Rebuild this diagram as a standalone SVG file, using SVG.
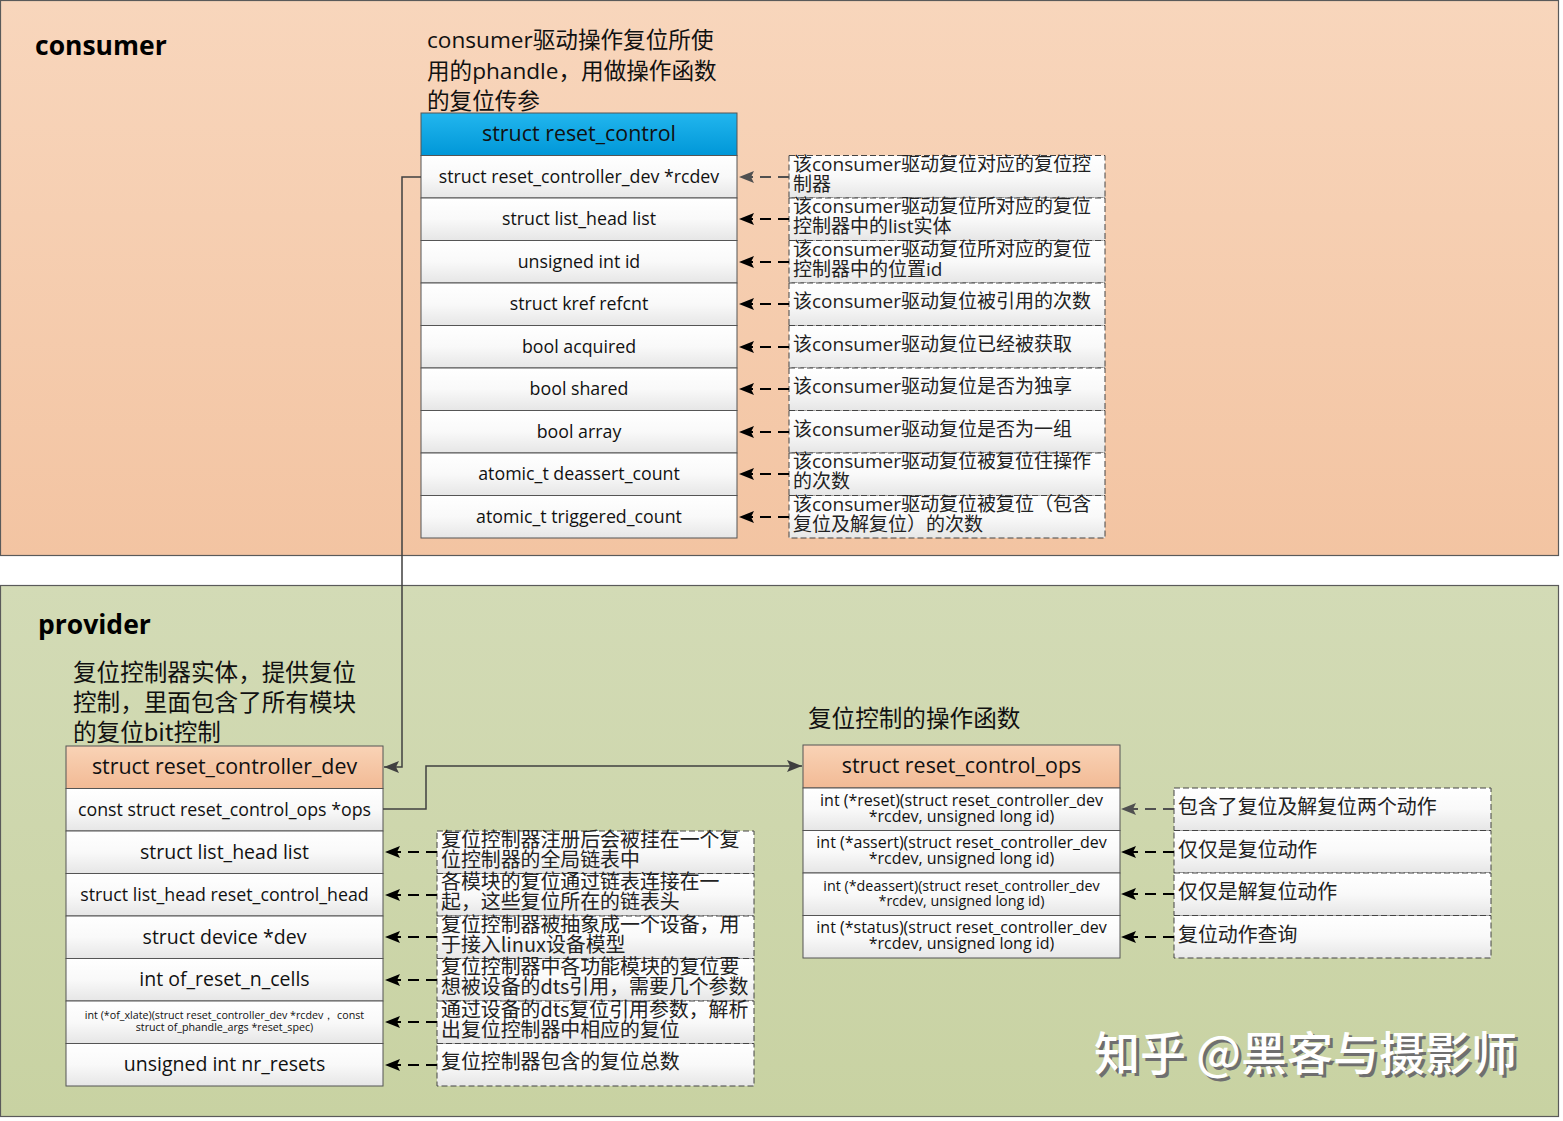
<svg xmlns="http://www.w3.org/2000/svg" width="1563" height="1121" viewBox="0 0 1563 1121">
<defs>
<linearGradient id="gCons" x1="0" y1="0" x2="0" y2="1"><stop offset="0" stop-color="#f8d6bc"/><stop offset="1" stop-color="#f3c4a2"/></linearGradient>
<linearGradient id="gProv" x1="0" y1="0" x2="0" y2="1"><stop offset="0" stop-color="#d3dbb6"/><stop offset="1" stop-color="#c8d2a2"/></linearGradient>
<linearGradient id="gBlue" x1="0" y1="0" x2="0" y2="1"><stop offset="0" stop-color="#22b6ee"/><stop offset="1" stop-color="#0097d8"/></linearGradient>
<linearGradient id="gPeach" x1="0" y1="0" x2="0" y2="1"><stop offset="0" stop-color="#f9d3b6"/><stop offset="1" stop-color="#f2ba95"/></linearGradient>
<linearGradient id="gRow" x1="0" y1="0" x2="0" y2="1"><stop offset="0" stop-color="#ffffff"/><stop offset="0.5" stop-color="#f9f9f9"/><stop offset="1" stop-color="#e6e6e6"/></linearGradient>
<marker id="ahg" markerWidth="16" markerHeight="12" refX="15" refY="6" orient="auto" markerUnits="userSpaceOnUse"><path d="M15,6 L0,0 L3,6 L0,12 Z" fill="#505050"/></marker>
<marker id="ahb" markerWidth="16" markerHeight="12" refX="15" refY="6" orient="auto" markerUnits="userSpaceOnUse"><path d="M15,6 L0,0 L3,6 L0,12 Z" fill="#000"/></marker>
<marker id="ahc" markerWidth="16" markerHeight="12" refX="15" refY="6" orient="auto" markerUnits="userSpaceOnUse"><path d="M15,6 L0,0 L3,6 L0,12 Z" fill="#404040"/></marker>
</defs>
<style>
.region{stroke:#5a5a5a;stroke-width:1.2}
.sec{font-family:"Open Sans","Noto Sans",sans-serif;font-weight:bold;font-size:26.5px;fill:#000}
.note{font-family:"Open Sans","Noto Sans CJK SC",sans-serif;font-size:22.6px;fill:#111}
.note2{font-family:"Noto Sans CJK SC","Open Sans",sans-serif;font-size:23.6px;fill:#111}
.hdr{stroke:#555;stroke-width:1}
.row{fill:url(#gRow);stroke:#555;stroke-width:1}
.ht{font-family:"Open Sans","Noto Sans",sans-serif;font-size:21.4px;fill:#111;text-anchor:middle}
.ft{font-family:"Open Sans","Noto Sans",sans-serif;font-size:17.8px;fill:#111;text-anchor:middle}
.ft18{font-family:"Open Sans","Noto Sans",sans-serif;font-size:19.5px;fill:#111;text-anchor:middle}
.ft10{font-family:"Open Sans","Noto Sans",sans-serif;font-size:10.7px;fill:#111;text-anchor:middle}
.ot{font-family:"Open Sans","Noto Sans",sans-serif;font-size:16px;fill:#111;text-anchor:middle}
.ann{fill:url(#gRow);stroke:#444;stroke-width:1;stroke-dasharray:6,3}
.at{font-family:"Open Sans","Noto Sans CJK SC",sans-serif;font-size:19px;fill:#222}
.at2{font-family:"Noto Sans CJK SC","Open Sans",sans-serif;font-size:19.9px;fill:#222}
.dash{stroke:#000;stroke-width:2.2;stroke-dasharray:11,7;fill:none;marker-end:url(#ahb)}
.dashg{stroke:#505050;stroke-width:2.2;stroke-dasharray:11,7;fill:none;marker-end:url(#ahg)}
.conn{stroke:#404040;stroke-width:1.5;fill:none;marker-end:url(#ahc)}
.wm{font-family:"Noto Sans CJK SC",sans-serif;font-weight:500;font-size:46px}
</style>

<g id="consumer-region">
<rect class="region" x="0.5" y="0.5" width="1558" height="555" fill="url(#gCons)"/>
<text class="sec" x="35" y="55">consumer</text>
<text class="note" x="427" y="48">consumer驱动操作复位所使</text>
<text class="note" x="427" y="79">用的phandle，用做操作函数</text>
<text class="note" x="427" y="109">的复位传参</text>
</g>

<g id="provider-region">
<rect class="region" x="0.5" y="585.5" width="1558" height="531" fill="url(#gProv)"/>
<text class="sec" x="38" y="634">provider</text>
<text class="note2" x="73" y="681">复位控制器实体，提供复位</text>
<text class="note2" x="73" y="711">控制，里面包含了所有模块</text>
<text class="note2" x="73" y="741">的复位bit控制</text>
<text class="note2" x="808" y="727">复位控制的操作函数</text>
</g>

<g id="reset_control">
<rect class="hdr" x="421" y="113" width="316" height="42.5" fill="url(#gBlue)"/>
<text class="ht" x="579" y="141">struct reset_control</text>
<rect class="row" x="421" y="155.5" width="316" height="42.5"/>
<text class="ft" x="579" y="183">struct reset_controller_dev *rcdev</text>
<rect class="row" x="421" y="198" width="316" height="42.5"/>
<text class="ft" x="579" y="225">struct list_head list</text>
<rect class="row" x="421" y="240.5" width="316" height="42.5"/>
<text class="ft" x="579" y="268">unsigned int id</text>
<rect class="row" x="421" y="283" width="316" height="42.5"/>
<text class="ft" x="579" y="310">struct kref refcnt</text>
<rect class="row" x="421" y="325.5" width="316" height="42.5"/>
<text class="ft" x="579" y="353">bool acquired</text>
<rect class="row" x="421" y="368" width="316" height="42.5"/>
<text class="ft" x="579" y="395">bool shared</text>
<rect class="row" x="421" y="410.5" width="316" height="42.5"/>
<text class="ft" x="579" y="438">bool array</text>
<rect class="row" x="421" y="453" width="316" height="42.5"/>
<text class="ft" x="579" y="480">atomic_t deassert_count</text>
<rect class="row" x="421" y="495.5" width="316" height="42.5"/>
<text class="ft" x="579" y="523">atomic_t triggered_count</text>
</g>

<g id="consumer-notes">
<rect class="ann" x="789" y="155.5" width="316" height="42.5"/>
<text class="at" x="793" y="171">该consumer驱动复位对应的复位控</text>
<text class="at" x="793" y="191">制器</text>
<rect class="ann" x="789" y="198" width="316" height="42.5"/>
<text class="at" x="793" y="213">该consumer驱动复位所对应的复位</text>
<text class="at" x="793" y="233">控制器中的list实体</text>
<rect class="ann" x="789" y="240.5" width="316" height="42.5"/>
<text class="at" x="793" y="256">该consumer驱动复位所对应的复位</text>
<text class="at" x="793" y="276">控制器中的位置id</text>
<rect class="ann" x="789" y="283" width="316" height="42.5"/>
<text class="at" x="793" y="308">该consumer驱动复位被引用的次数</text>
<rect class="ann" x="789" y="325.5" width="316" height="42.5"/>
<text class="at" x="793" y="351">该consumer驱动复位已经被获取</text>
<rect class="ann" x="789" y="368" width="316" height="42.5"/>
<text class="at" x="793" y="393">该consumer驱动复位是否为独享</text>
<rect class="ann" x="789" y="410.5" width="316" height="42.5"/>
<text class="at" x="793" y="436">该consumer驱动复位是否为一组</text>
<rect class="ann" x="789" y="453" width="316" height="42.5"/>
<text class="at" x="793" y="468">该consumer驱动复位被复位住操作</text>
<text class="at" x="793" y="488">的次数</text>
<rect class="ann" x="789" y="495.5" width="316" height="42.5"/>
<text class="at" x="793" y="511">该consumer驱动复位被复位（包含</text>
<text class="at" x="793" y="531">复位及解复位）的次数</text>
</g>

<g id="reset_controller_dev">
<rect class="hdr" x="66" y="746" width="317" height="42.5" fill="url(#gPeach)"/>
<text class="ht" x="224.5" y="774">struct reset_controller_dev</text>
<rect class="row" x="66" y="788.5" width="317" height="42.5"/>
<text class="ft" x="224.5" y="816">const struct reset_control_ops *ops</text>
<rect class="row" x="66" y="831" width="317" height="42.5"/>
<text class="ft18" x="224.5" y="859">struct list_head list</text>
<rect class="row" x="66" y="873.5" width="317" height="42.5"/>
<text class="ft" x="224.5" y="901">struct list_head reset_control_head</text>
<rect class="row" x="66" y="916" width="317" height="42.5"/>
<text class="ft18" x="224.5" y="944">struct device *dev</text>
<rect class="row" x="66" y="958.5" width="317" height="42.5"/>
<text class="ft18" x="224.5" y="986">int of_reset_n_cells</text>
<rect class="row" x="66" y="1001" width="317" height="42.5"/>
<text class="ft10" x="224.5" y="1019">int (*of_xlate)(struct reset_controller_dev *rcdev，  const</text>
<text class="ft10" x="224.5" y="1031">struct of_phandle_args *reset_spec)</text>
<rect class="row" x="66" y="1043.5" width="317" height="42.5"/>
<text class="ft18" x="224.5" y="1071">unsigned int nr_resets</text>
</g>

<g id="provider-notes">
<rect class="ann" x="437" y="831" width="317" height="42.5"/>
<text class="at2" x="441" y="847">复位控制器注册后会被挂在一个复</text>
<text class="at2" x="441" y="867">位控制器的全局链表中</text>
<rect class="ann" x="437" y="873.5" width="317" height="42.5"/>
<text class="at2" x="441" y="889">各模块的复位通过链表连接在一</text>
<text class="at2" x="441" y="909">起，这些复位所在的链表头</text>
<rect class="ann" x="437" y="916" width="317" height="42.5"/>
<text class="at2" x="441" y="932">复位控制器被抽象成一个设备，用</text>
<text class="at2" x="441" y="952">于接入linux设备模型</text>
<rect class="ann" x="437" y="958.5" width="317" height="42.5"/>
<text class="at2" x="441" y="974">复位控制器中各功能模块的复位要</text>
<text class="at2" x="441" y="994">想被设备的dts引用，需要几个参数</text>
<rect class="ann" x="437" y="1001" width="317" height="42.5"/>
<text class="at2" x="441" y="1017">通过设备的dts复位引用参数，解析</text>
<text class="at2" x="441" y="1037">出复位控制器中相应的复位</text>
<rect class="ann" x="437" y="1043.5" width="317" height="42.5"/>
<text class="at2" x="441" y="1069">复位控制器包含的复位总数</text>
</g>

<g id="reset_control_ops">
<rect class="hdr" x="803" y="745" width="317" height="43" fill="url(#gPeach)"/>
<text class="ht" x="961.5" y="773">struct reset_control_ops</text>
<rect class="row" x="803" y="788" width="317" height="42.5"/>
<text class="ot" x="961.5" y="806">int (*reset)(struct reset_controller_dev</text>
<text class="ot" x="961.5" y="822">*rcdev, unsigned long id)</text>
<rect class="row" x="803" y="830.5" width="317" height="42.5"/>
<text class="ot" x="961.5" y="848">int (*assert)(struct reset_controller_dev</text>
<text class="ot" x="961.5" y="864">*rcdev, unsigned long id)</text>
<rect class="row" x="803" y="873" width="317" height="42.5"/>
<text class="ot" x="961.5" y="891" style="font-size:14.3px">int (*deassert)(struct reset_controller_dev</text>
<text class="ot" x="961.5" y="906" style="font-size:14.3px">*rcdev, unsigned long id)</text>
<rect class="row" x="803" y="915.5" width="317" height="42.5"/>
<text class="ot" x="961.5" y="933">int (*status)(struct reset_controller_dev</text>
<text class="ot" x="961.5" y="949">*rcdev, unsigned long id)</text>
</g>

<g id="ops-notes">
<rect class="ann" x="1174" y="788" width="317" height="42.5"/>
<text class="at2" x="1178" y="814">包含了复位及解复位两个动作</text>
<rect class="ann" x="1174" y="830.5" width="317" height="42.5"/>
<text class="at2" x="1178" y="857">仅仅是复位动作</text>
<rect class="ann" x="1174" y="873" width="317" height="42.5"/>
<text class="at2" x="1178" y="899">仅仅是解复位动作</text>
<rect class="ann" x="1174" y="915.5" width="317" height="42.5"/>
<text class="at2" x="1178" y="942">复位动作查询</text>
</g>

<g id="connectors">
<path class="conn" d="M421,177 H402 V767 H384"/>
<path class="conn" d="M383,809 H426 V766 H802"/>
<line class="dashg" x1="789" y1="177" x2="739" y2="177"/>
<line class="dash" x1="789" y1="219" x2="739" y2="219"/>
<line class="dash" x1="789" y1="262" x2="739" y2="262"/>
<line class="dash" x1="789" y1="304" x2="739" y2="304"/>
<line class="dash" x1="789" y1="347" x2="739" y2="347"/>
<line class="dash" x1="789" y1="389" x2="739" y2="389"/>
<line class="dash" x1="789" y1="432" x2="739" y2="432"/>
<line class="dash" x1="789" y1="474" x2="739" y2="474"/>
<line class="dash" x1="789" y1="517" x2="739" y2="517"/>
<line class="dash" x1="437" y1="852" x2="385" y2="852"/>
<line class="dash" x1="437" y1="895" x2="385" y2="895"/>
<line class="dash" x1="437" y1="937" x2="385" y2="937"/>
<line class="dash" x1="437" y1="980" x2="385" y2="980"/>
<line class="dash" x1="437" y1="1022" x2="385" y2="1022"/>
<line class="dash" x1="437" y1="1065" x2="385" y2="1065"/>
<line class="dashg" x1="1174" y1="809" x2="1121" y2="809"/>
<line class="dash" x1="1174" y1="852" x2="1121" y2="852"/>
<line class="dash" x1="1174" y1="894" x2="1121" y2="894"/>
<line class="dash" x1="1174" y1="937" x2="1121" y2="937"/>
</g>

<g id="watermark">
<text class="wm" x="1097" y="1073" fill="#6f6f6f">知乎 @黑客与摄影师</text>
<text class="wm" x="1094" y="1070" fill="#ffffff">知乎 @黑客与摄影师</text>
</g>
</svg>
